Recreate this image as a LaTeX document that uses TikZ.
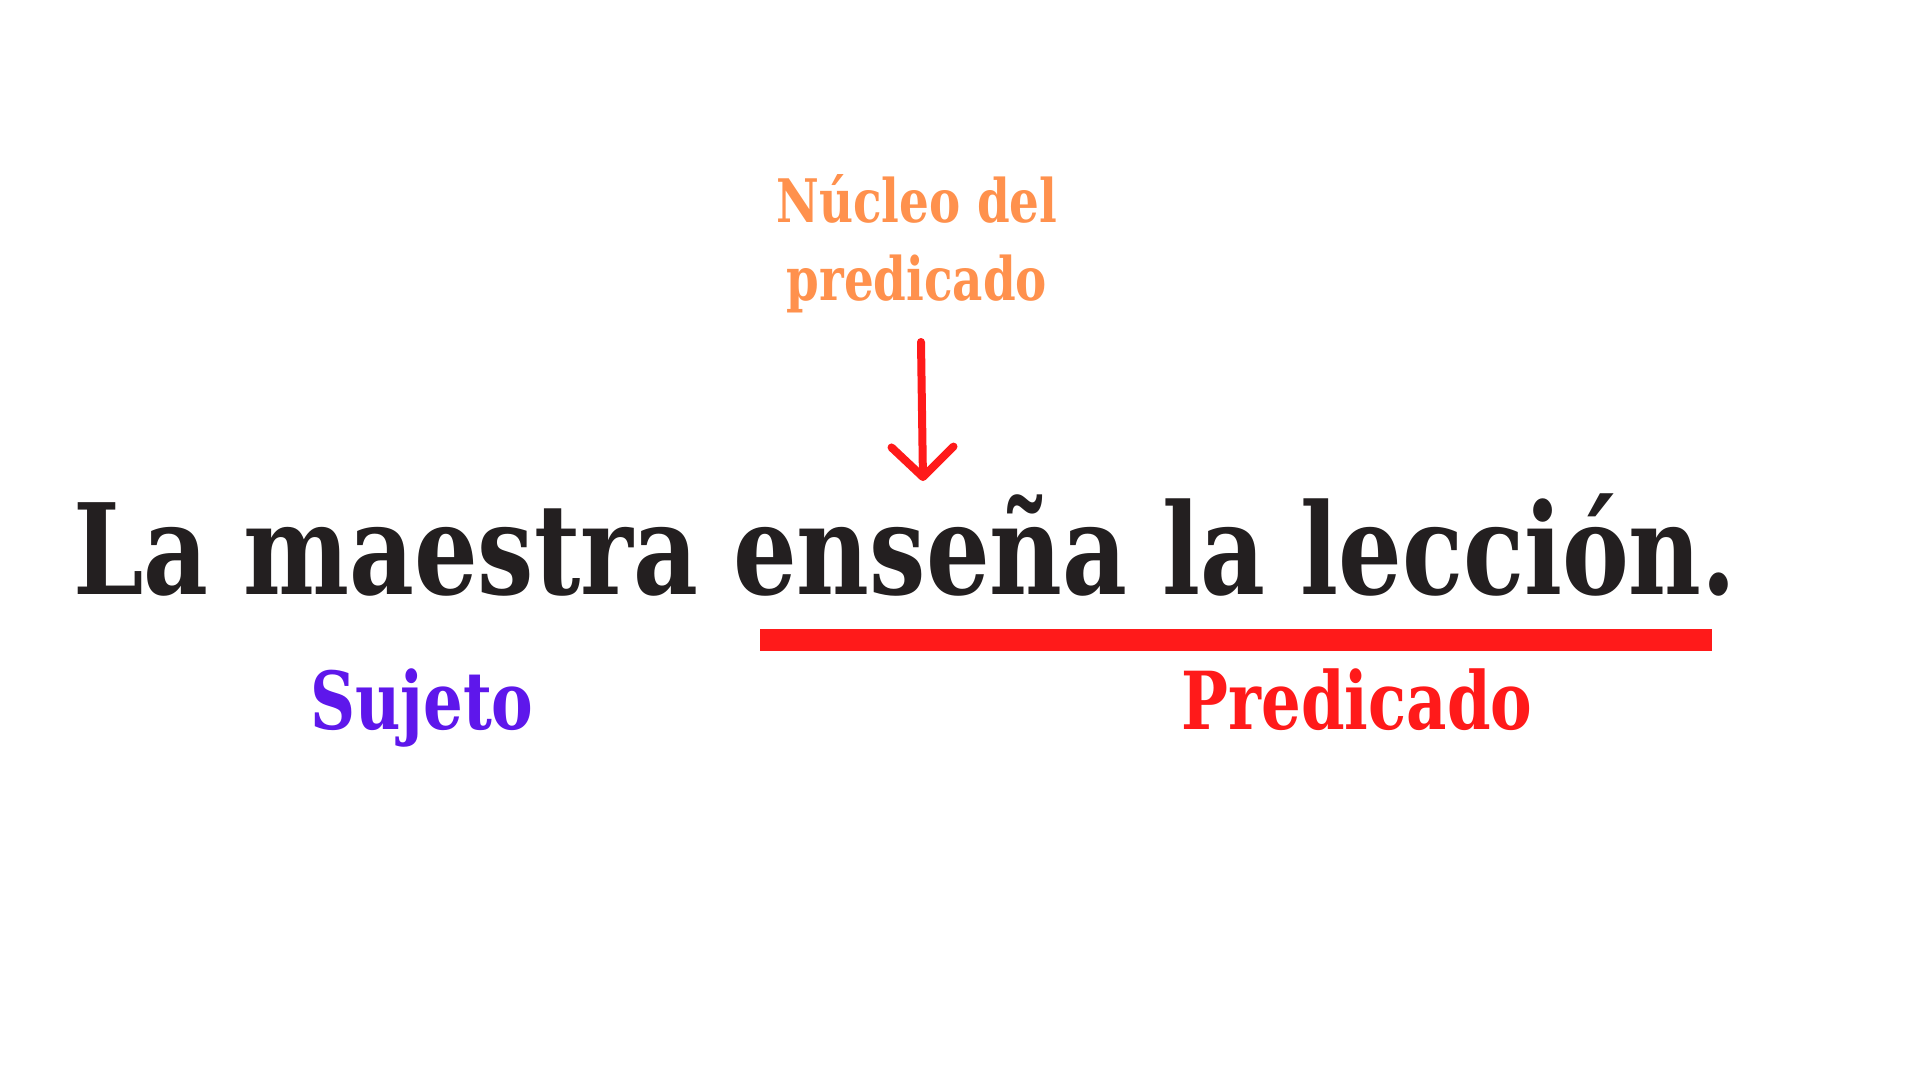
\documentclass[tikz,border=0pt]{standalone}
\usepackage{fontspec}
\setmainfont{DejaVu Serif}[FakeStretch=0.795]
\newfontfamily\labelFont{DejaVu Serif}[FakeStretch=0.78]
\usetikzlibrary{arrows.meta}
\definecolor{inkDark}{HTML}{231F20}
\definecolor{nucleoOrange}{HTML}{FF914D}
\definecolor{sujetoPurple}{HTML}{5E17EB}
\definecolor{predRed}{HTML}{FF1A1A}
\begin{document}
\begin{tikzpicture}
[x=1pt,y=-1pt,%
  sentenceDecorate/.style={inner sep=0pt,anchor=base west,text=inkDark,font=\fontsize{126}{130}\selectfont\bfseries},%
  nucleoDecorate/.style={inner sep=0pt,anchor=base,text=nucleoOrange,font=\labelFont\fontsize{60}{66}\selectfont\bfseries},%
  labelDecorate/.style={inner sep=0pt,anchor=base,font=\labelFont\fontsize{80}{88}\selectfont\bfseries},%
  arrowDecorate/.style={-{Straight Barb[length=30pt,width=62pt,round]},line width=8pt,line cap=round,draw=predRed}]
\useasboundingbox[fill=white] (0,0) rectangle (1920,1080);
%% sentence
\node (sentence) at (73,594) [sentenceDecorate] {La maestra enseña la lección.};
%% labels
\node (nucleoTop) at (917,222) [nucleoDecorate] {Núcleo del};
\node (nucleoBottom) at (917,300) [nucleoDecorate] {predicado};
\node (sujeto) at (422,729) [labelDecorate,text=sujetoPurple] {Sujeto};
\node (predicado) at (1357,729) [labelDecorate,text=predRed] {Predicado};
%% underline of the predicate
\fill[predRed] (760,629) rectangle (1712,651);
%% arrow to the verb
\coordinate (arrowTop) at (921,342);
\coordinate (arrowTip) at (923,481);
\draw[arrowDecorate] (arrowTop) -- (arrowTip);
\end{tikzpicture}
\end{document}
